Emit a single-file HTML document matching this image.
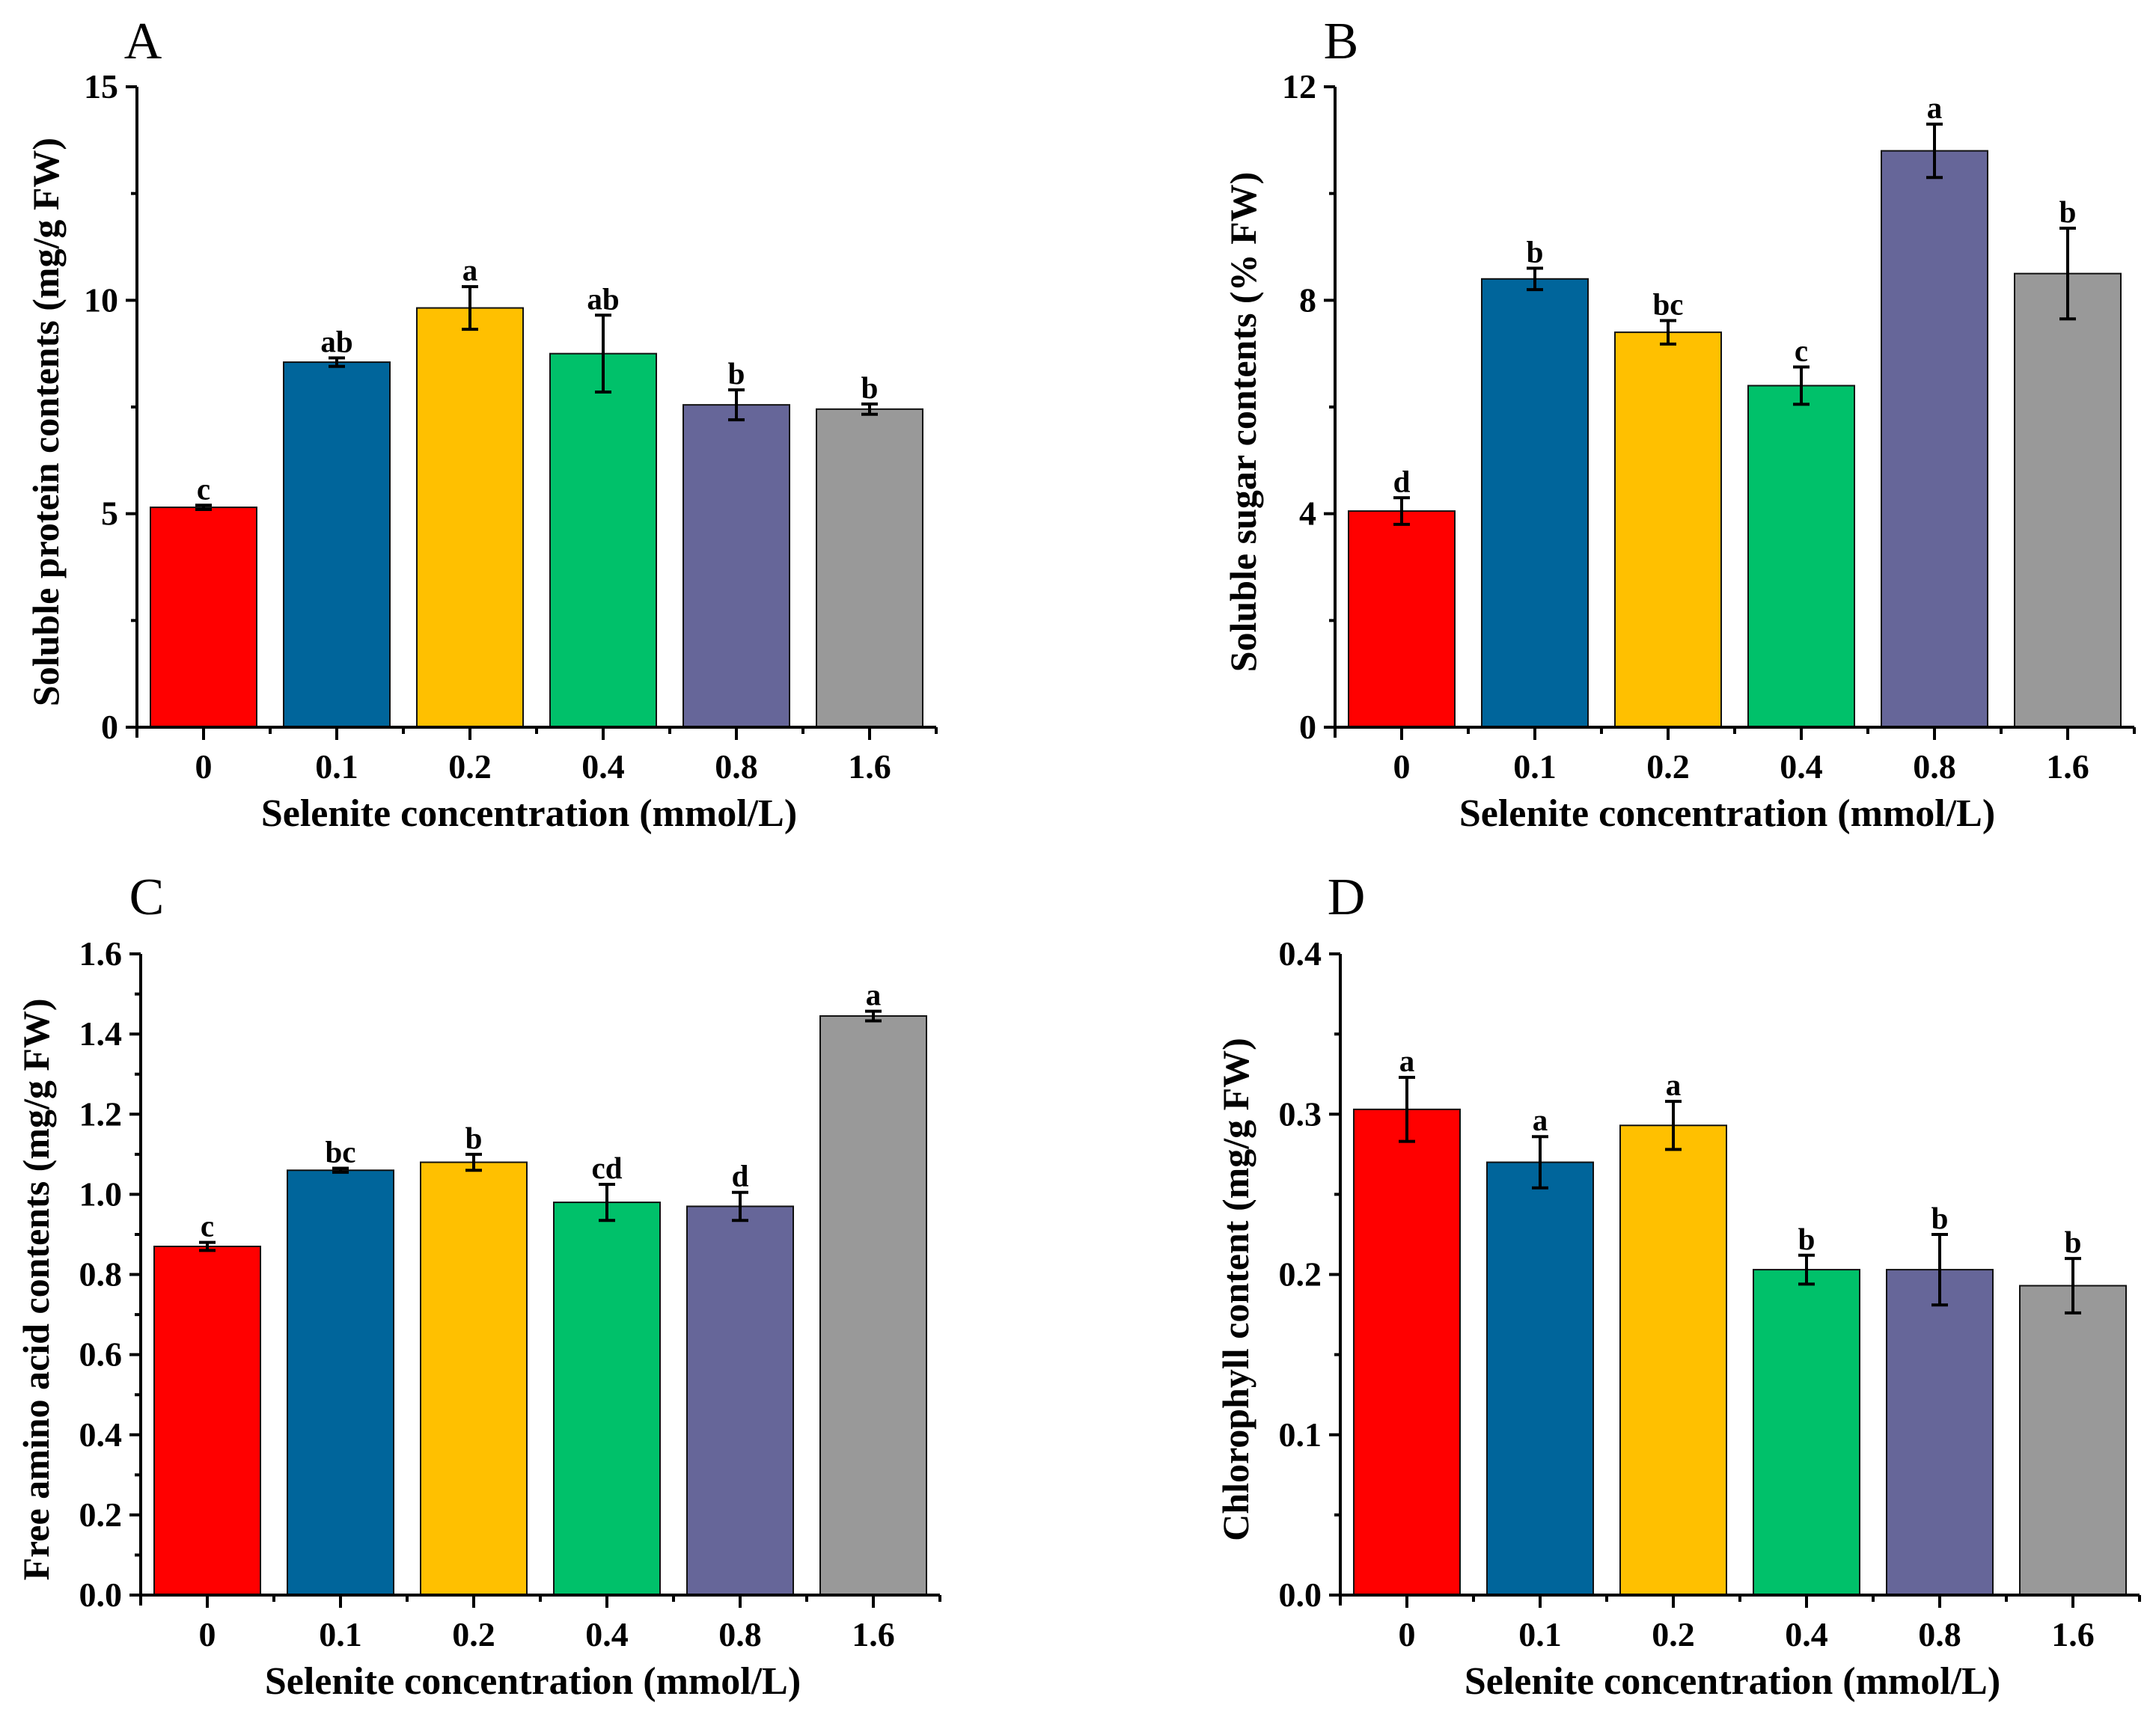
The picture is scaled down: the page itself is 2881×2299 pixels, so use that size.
<!DOCTYPE html>
<html><head><meta charset="utf-8">
<style>
html,body{margin:0;padding:0;background:#fff;}
svg{display:block;font-family:"Liberation Serif",serif;}
</style></head>
<body>
<svg id="fig" width="2881" height="2299" viewBox="0 0 2881 2299" xmlns="http://www.w3.org/2000/svg"></svg>
<script>
const categories = ["0","0.1","0.2","0.4","0.8","1.6"];
const barColors = ["#ff0000","#00659b","#ffc000","#00c16a","#666699","#999999"];

const valuesA = [5.15, 8.55, 9.82, 8.75, 7.55, 7.45];
const errorsA = [0.05, 0.1, 0.5, 0.9, 0.35, 0.12];
const lettersA = ["c","ab","a","ab","b","b"];
const ticksA = [0, 5, 10, 15];

const valuesB = [4.05, 8.4, 7.4, 6.4, 10.8, 8.5];
const errorsB = [0.25, 0.2, 0.22, 0.35, 0.5, 0.85];
const lettersB = ["d","b","bc","c","a","b"];
const ticksB = [0, 4, 8, 12];

const valuesC = [0.87, 1.06, 1.08, 0.98, 0.97, 1.445];
const errorsC = [0.01, 0.005, 0.02, 0.045, 0.035, 0.012];
const lettersC = ["c","bc","b","cd","d","a"];
const ticksC = [0.0, 0.2, 0.4, 0.6, 0.8, 1.0, 1.2, 1.4, 1.6];

const valuesD = [0.303, 0.27, 0.293, 0.203, 0.203, 0.193];
const errorsD = [0.02, 0.016, 0.015, 0.009, 0.022, 0.017];
const lettersD = ["a","a","a","b","b","b"];
const ticksD = [0.0, 0.1, 0.2, 0.3, 0.4];

const NS = "http://www.w3.org/2000/svg";
const svg = document.getElementById("fig");
function mk(tag, attrs, parent, text){
  const e = document.createElementNS(NS, tag);
  for (const k in attrs) e.setAttribute(k, attrs[k]);
  if (text !== undefined) e.textContent = text;
  parent.appendChild(e);
  return e;
}

function panel(id, letter, ax, top, bottom, values, errors, letters, ticks, decimals, yTitle, titleX){
  const g = mk("g", {}, svg);
  
  
  const band = 178, width = band*6;
  const ymax = ticks[ticks.length-1];
  const y = v => bottom - (v/ymax)*(bottom-top);
  const xc = i => ax + band/2 + i*band;

  const lbl = mk("text", {x: ax+8, y: 78, "font-size": 70, "text-anchor":"middle"}, g, letter);
  if (top > 1000) lbl.setAttribute("y", 1222);
  
  

  values.forEach((v,i)=>{
    const b = mk("rect", {x: xc(i)-71, y: y(v), width: 142, height: bottom - y(v), fill: barColors[i], stroke:"#111", "stroke-width":2}, g);
    
    
    const hi = y(v+errors[i]), lo = y(v-errors[i]);
    const e = mk("path", {d:`M${xc(i)} ${hi}V${lo}M${xc(i)-11} ${hi}H${xc(i)+11}M${xc(i)-11} ${lo}H${xc(i)+11}`, stroke:"#000", "stroke-width":4, fill:"none"}, g);
    
    
    const t = mk("text", {x: xc(i), y: hi-8, "font-size": 41, "font-weight":"bold", "text-anchor":"middle"}, g, letters[i]);
    
    
  });

  const axes = mk("path", {d:`M${ax} ${top}V${bottom+14}M${ax-14} ${bottom}H${ax+width}`, stroke:"#000", "stroke-width":4, fill:"none"}, g);
  
  

  let d = "";
  ticks.forEach((t,i)=>{
    d += `M${ax-15} ${y(t)}H${ax}`;
    if (i>0) { const m = (t+ticks[i-1])/2; d += `M${ax-8} ${y(m)}H${ax}`; }
    const tl = mk("text", {x: ax-25, y: y(t)+15, "font-size": 46, "font-weight":"bold", "text-anchor":"end"}, g, t.toFixed(decimals));
    
    
  });
  categories.forEach((c,i)=>{
    d += `M${xc(i)} ${bottom}V${bottom+17}M${ax+band*(i+1)} ${bottom}V${bottom+9}`;
    const tl = mk("text", {x: xc(i), y: bottom+68, "font-size": 46, "font-weight":"bold", "text-anchor":"middle"}, g, c);
    
    
  });
  const tk = mk("path", {d, stroke:"#000", "stroke-width":4, fill:"none"}, g);
  
  

  const xt = mk("text", {x: ax+width/2-10, y: bottom+132, "font-size": 52, "font-weight":"bold", "text-anchor":"middle"}, g, "Selenite concentration (mmol/L)");
  
  
  const cy = (top+bottom)/2 + 20;
  const yt = mk("text", {x: titleX, y: cy, "font-size": 50, "font-weight":"bold", "text-anchor":"middle", transform:`rotate(-90 ${titleX} ${cy})`}, g, yTitle);
  
  
}

panel("a","A",183,116,972,valuesA,errorsA,lettersA,ticksA,0,"Soluble protein contents (mg/g FW)",78);
panel("b","B",1784,116,972,valuesB,errorsB,lettersB,ticksB,0,"Soluble sugar contents (% FW)",1678);
panel("c","C",188,1275,2132,valuesC,errorsC,lettersC,ticksC,1,"Free amino acid contents (mg/g FW)",65);
panel("d","D",1791,1275,2132,valuesD,errorsD,lettersD,ticksD,1,"Chlorophyll content (mg/g FW)",1668);
</script>
</body></html>
